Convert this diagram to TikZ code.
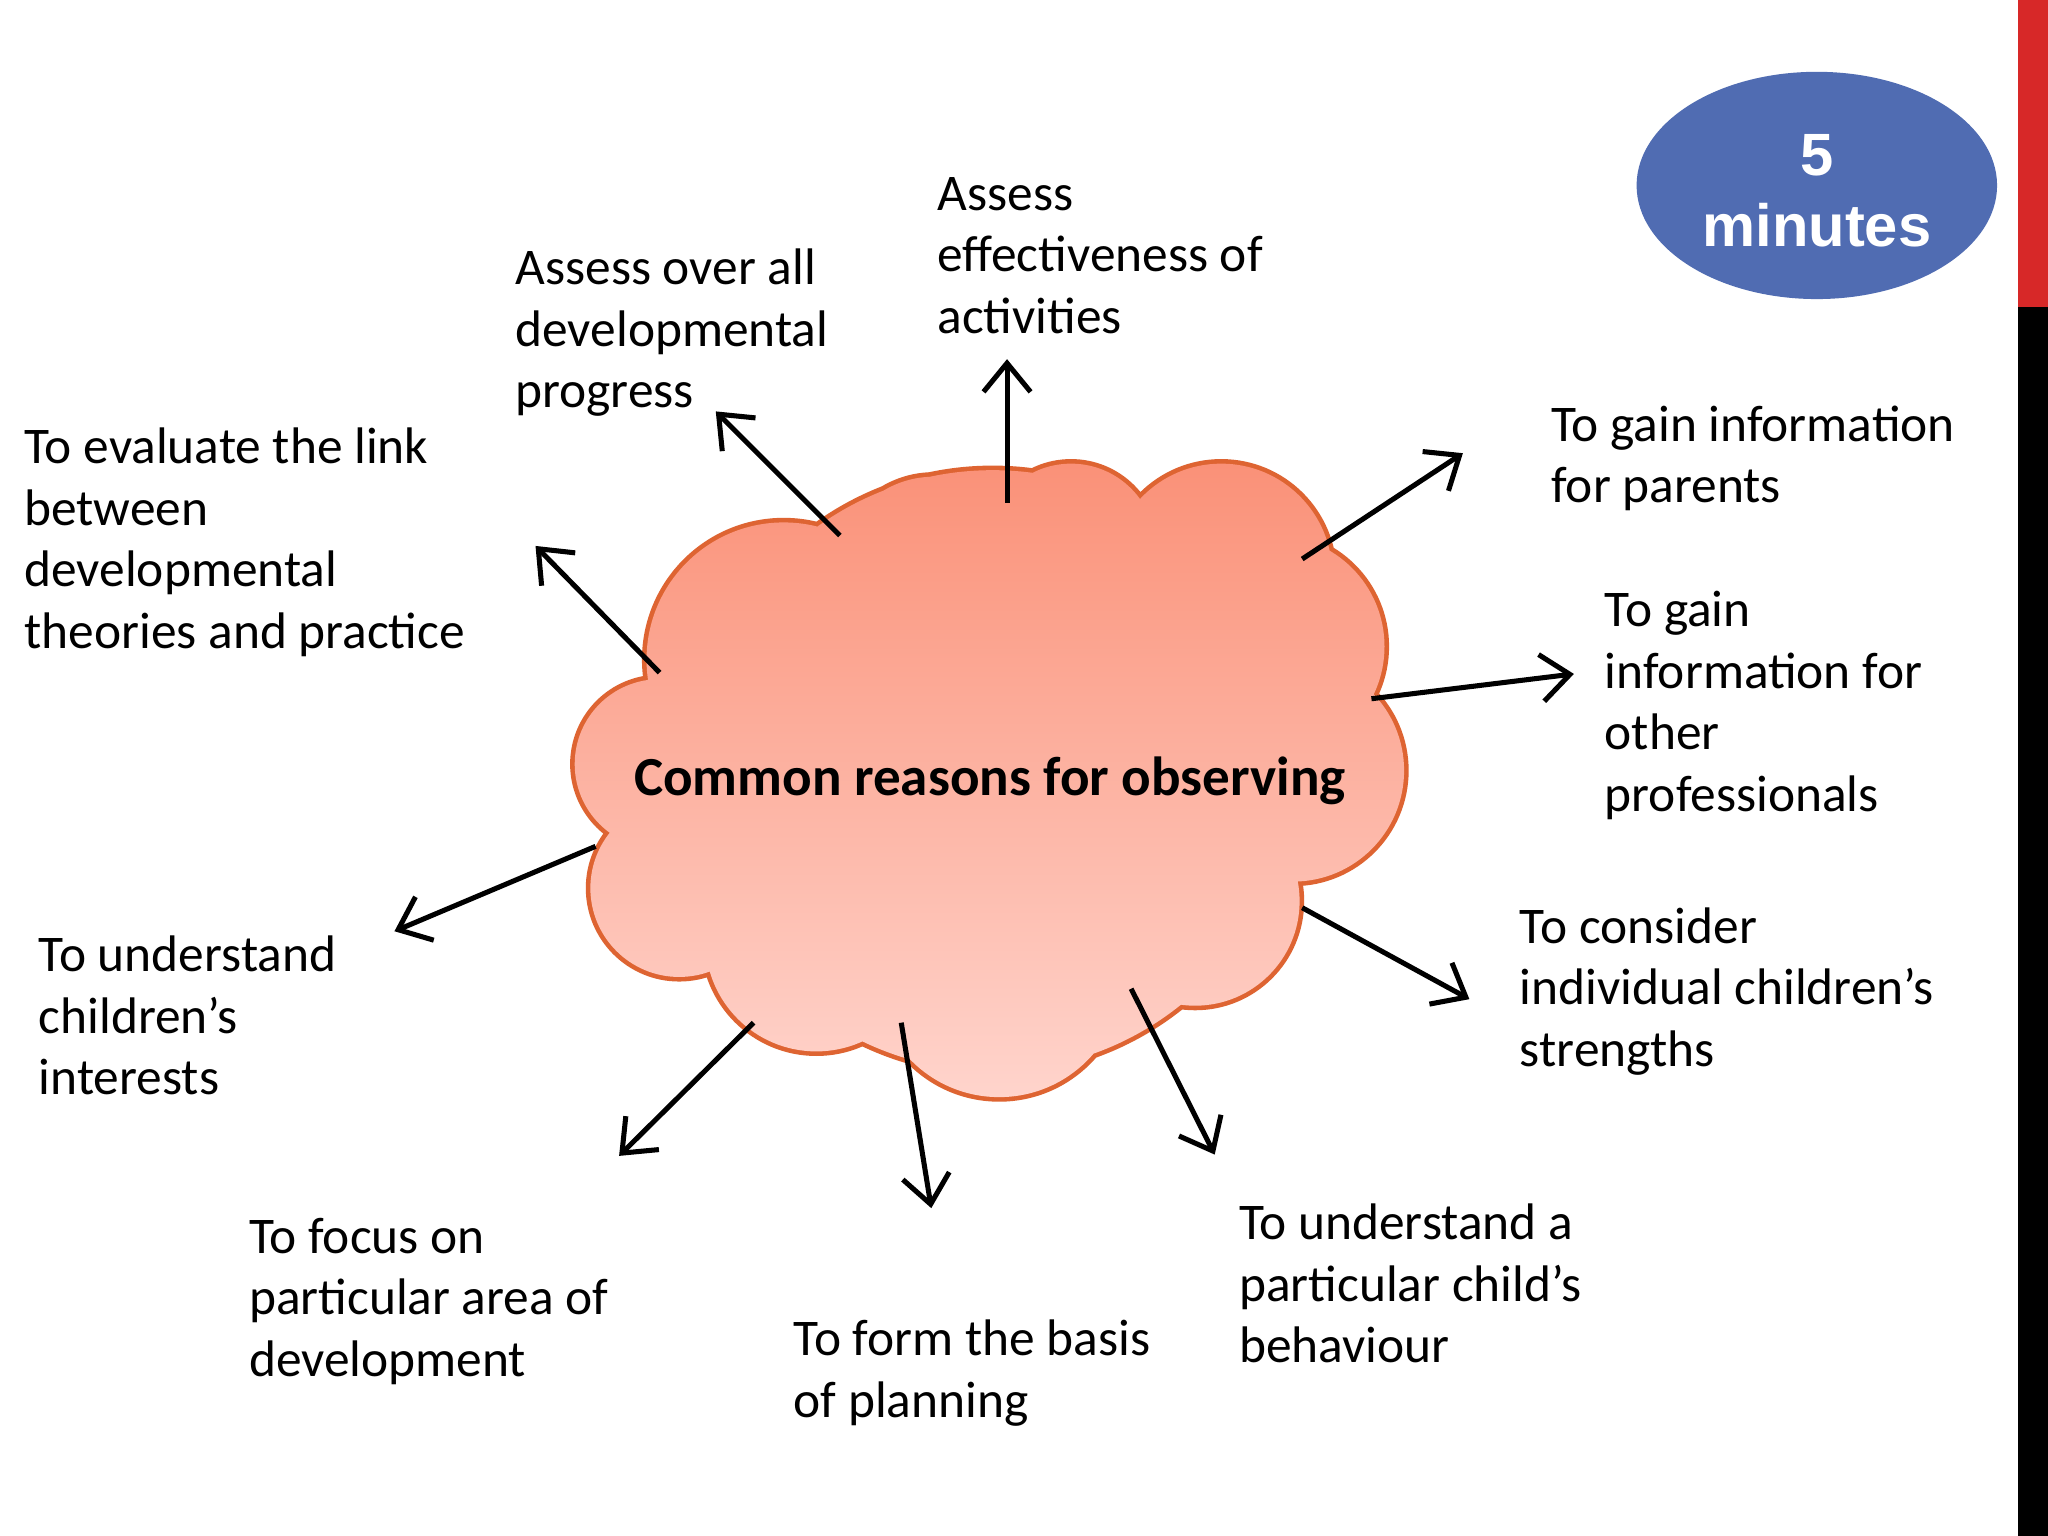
\documentclass[tikz,border=0pt]{standalone}
\usepackage{fontspec}
\setmainfont{Carlito}
\newfontfamily\arialf{Liberation Sans}
\usetikzlibrary{arrows.meta,shapes.geometric}
\definecolor{cloudline}{RGB}{222,100,50}
\definecolor{ctop}{RGB}{250,145,120}
\definecolor{cbot}{RGB}{255,212,204}
\definecolor{ovalblue}{RGB}{80,108,178}
\definecolor{barred}{RGB}{215,40,40}
\tikzset{
  lbl/.style={anchor=north west,align=left,inner sep=0pt,font=\fontsize{11.2}{13.4}\selectfont},
  arr/.style={-{Straight Barb[length=2.2mm,width=3.6mm]},line width=1.1pt},
}
\begin{document}
\begin{tikzpicture}[x=1cm,y=1cm]
\useasboundingbox (0,0) rectangle (15.68,11.76);
\fill[white] (0,0) rectangle (15.68,11.76);
\fill[barred] (15.45,9.41) rectangle (15.68,11.76);
\fill[black] (15.45,0) rectangle (15.68,9.41);
% cloud outline
\def\cloudpath{
 (6.00,6.71) circle (1.05)
 (7.15,7.36) circle (0.75)
 (8.20,7.56) circle (0.65)
 (9.35,7.36) circle (0.85)
 (9.75,6.81) circle (0.85)
 (9.90,5.86) circle (0.85)
 (9.15,4.86) circle (0.80)
 (7.65,4.31) circle (0.95)
 (6.25,4.56) circle (0.85)
 (5.20,4.96) circle (0.68)
 (5.05,5.91) circle (0.65)
 (7.60,5.86) circle (2.30)}
\draw[cloudline,line width=2pt] \cloudpath;
\shade[top color=ctop,bottom color=cbot] \cloudpath;
\node (title) at (7.58,5.78) {\fontsize{12}{14}\selectfont\bfseries Common reasons for observing};
% oval
\node[ellipse,fill=ovalblue,minimum width=2.76cm,minimum height=1.74cm,inner sep=0pt] (oval) at (13.91,10.34) {};
\node[text=white,font=\arialf\fontsize{13}{15.5}\selectfont\bfseries,align=center] (ovaltxt) at (13.91,10.30) {5\\minutes};
% labels
\node[lbl] (l1) at (0.18,8.49) {To evaluate the link\\between\\developmental\\theories and practice};
\node[lbl] (l2) at (3.94,9.86) {Assess over all\\developmental\\progress};
\node[lbl] (l3) at (7.17,10.41) {Assess\\effectiveness of\\activities};
\node[lbl] (l4) at (11.87,8.66) {To gain information\\for parents};
\node[lbl] (l5) at (12.28,7.24) {To gain\\information for\\other\\professionals};
\node[lbl] (l6) at (11.63,4.82) {To consider\\individual children’s\\strengths};
\node[lbl] (l7) at (9.48,2.55) {To understand a\\particular child’s\\behaviour};
\node[lbl] (l8) at (6.07,1.66) {To form the basis\\of planning};
\node[lbl] (l9) at (1.90,2.44) {To focus on\\particular area of\\development};
\node[lbl] (l10) at (0.29,4.60) {To understand\\children’s\\interests};
% arrow endpoints
\coordinate (s1) at (5.05,6.61); \coordinate (e1) at (4.10,7.58);
\coordinate (s2) at (6.43,7.66); \coordinate (e2) at (5.48,8.61);
\coordinate (s3) at (7.71,7.91); \coordinate (e3) at (7.71,9.01);
\coordinate (s4) at (9.97,7.48); \coordinate (e4) at (11.20,8.29);
\coordinate (s5) at (10.50,6.41); \coordinate (e5) at (12.05,6.60);
\coordinate (s6) at (9.97,4.81); \coordinate (e6) at (11.25,4.11);
\coordinate (s7) at (8.66,4.19); \coordinate (e7) at (9.30,2.92);
\coordinate (s8) at (6.90,3.93); \coordinate (e8) at (7.13,2.51);
\coordinate (s9) at (5.77,3.93); \coordinate (e9) at (4.74,2.91);
\coordinate (s10) at (4.56,5.28); \coordinate (e10) at (3.02,4.63);
\foreach \i in {1,...,10} \draw[arr] (s\i) -- (e\i);
\end{tikzpicture}
\end{document}
